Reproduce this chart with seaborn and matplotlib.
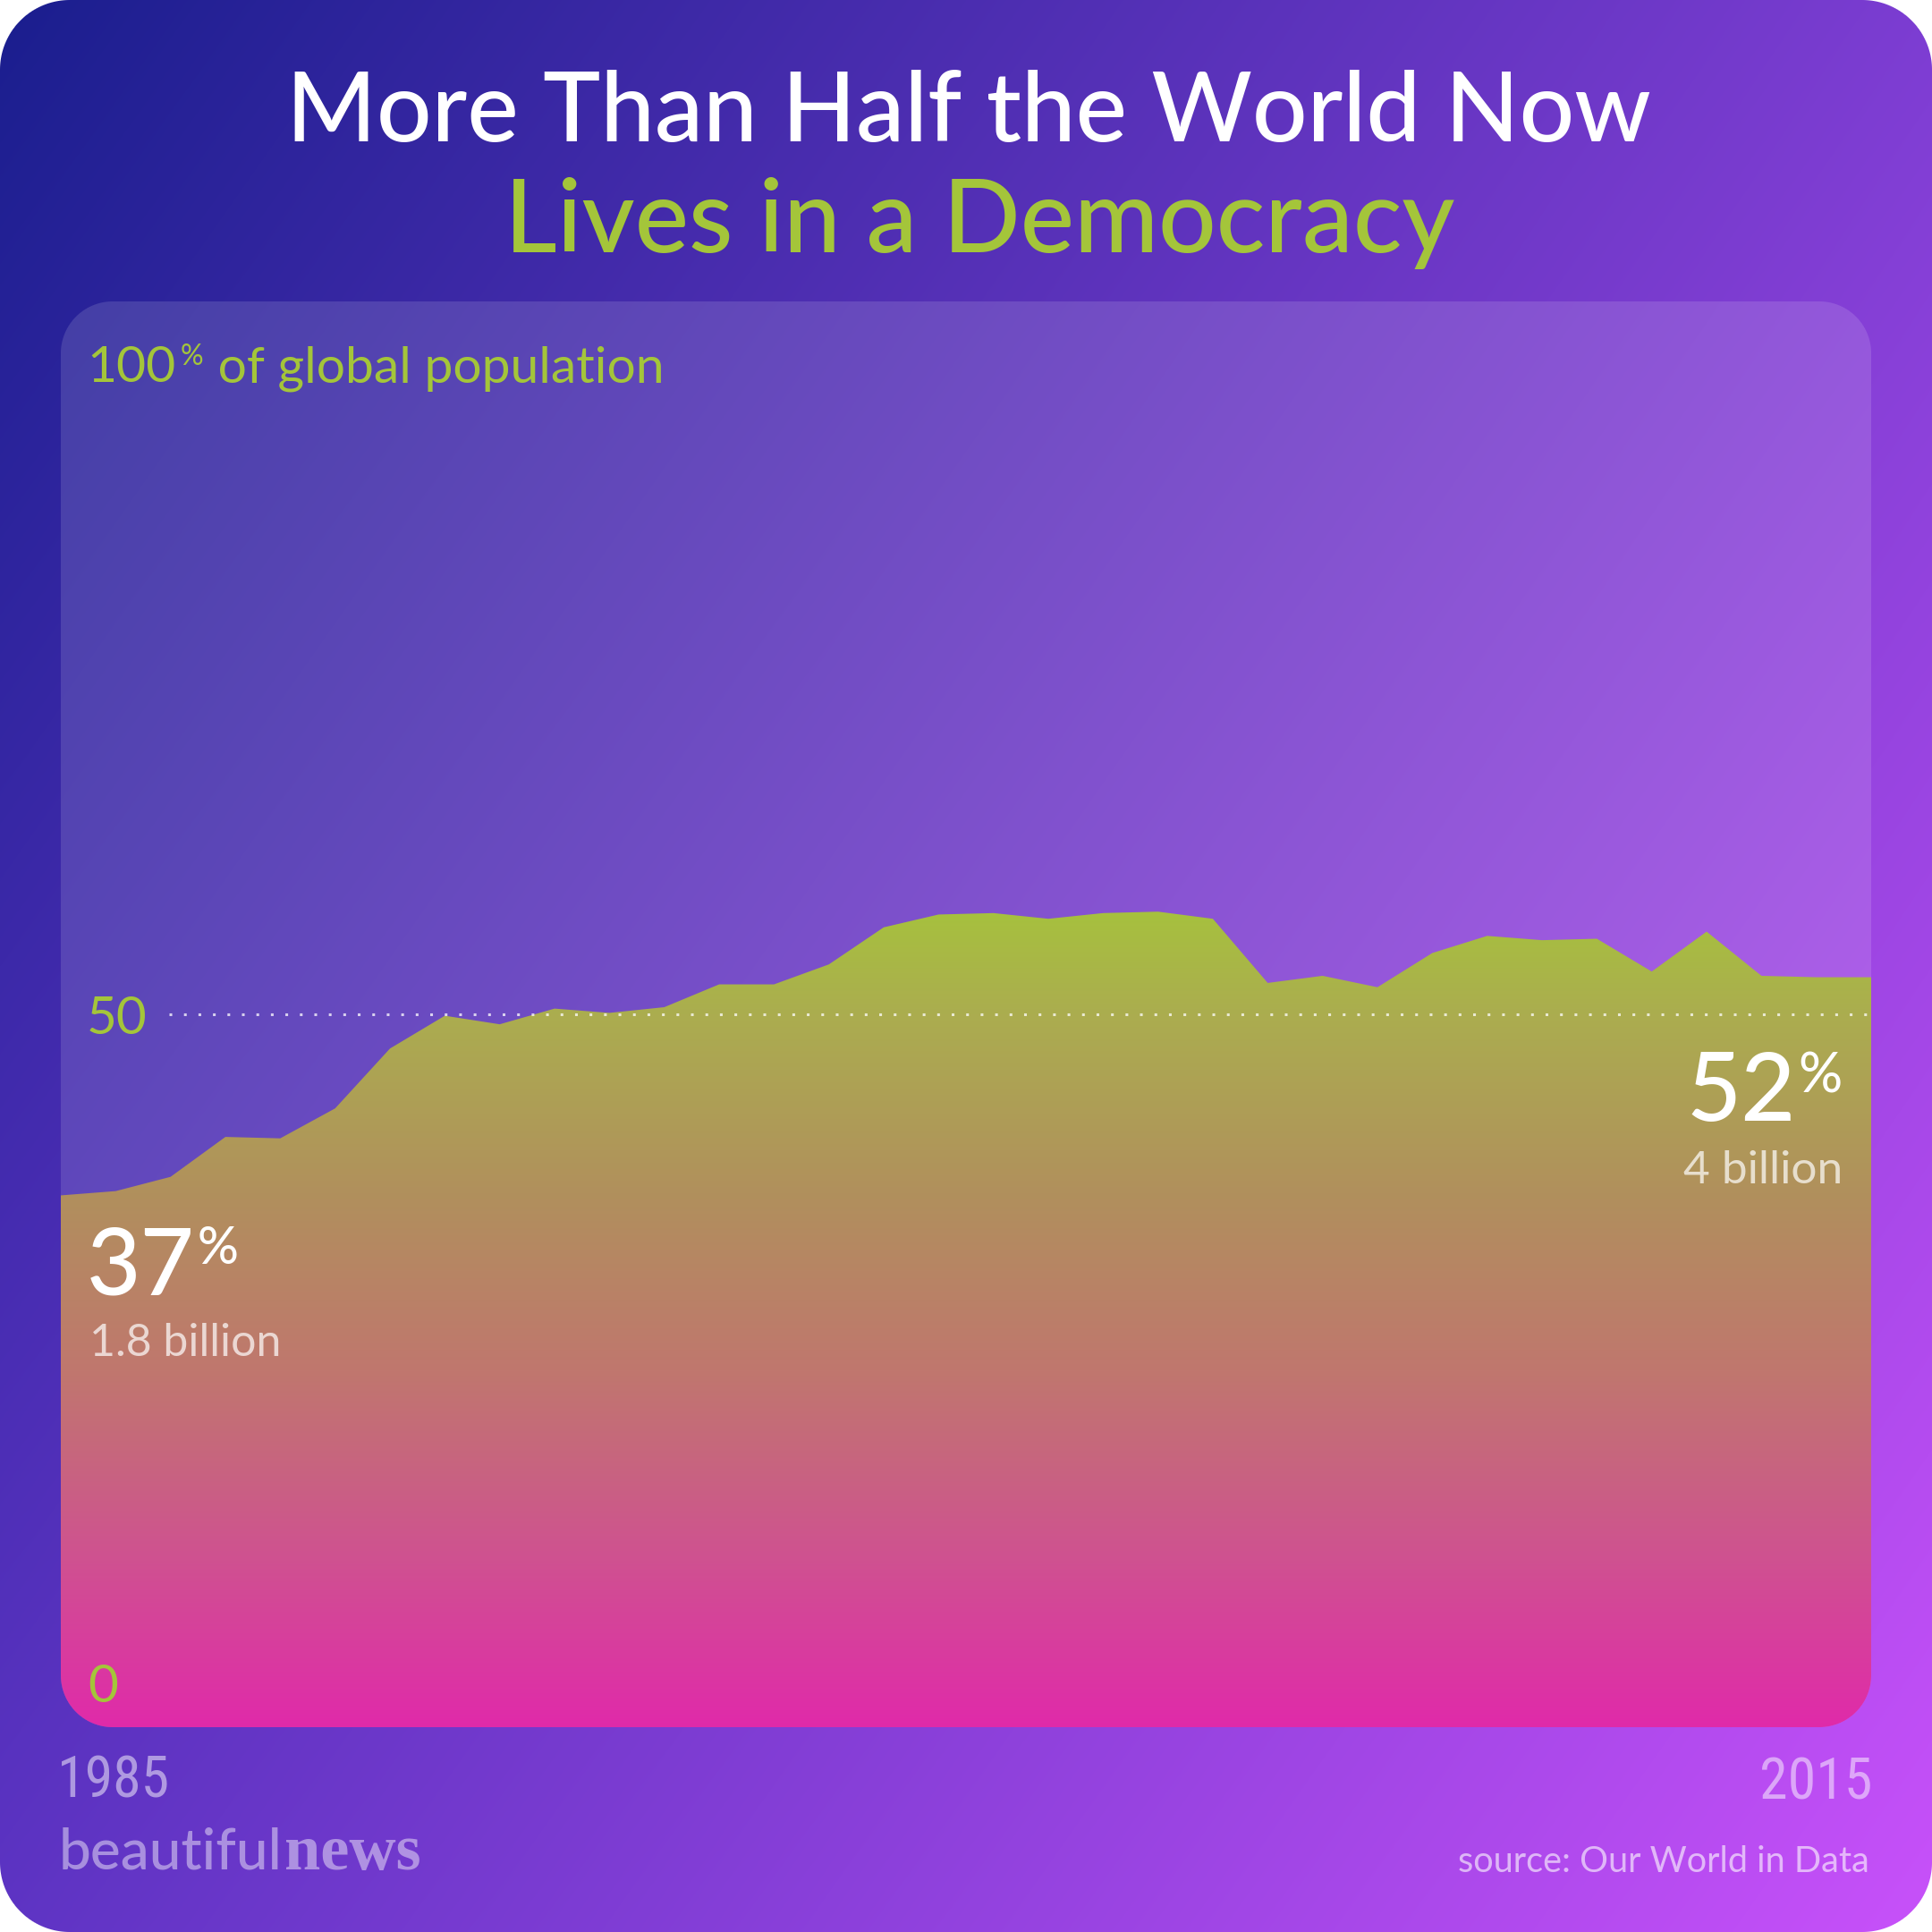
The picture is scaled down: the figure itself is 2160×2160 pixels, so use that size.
import numpy as np
import pandas as pd
import matplotlib
matplotlib.use("Agg")
import matplotlib.pyplot as plt
import seaborn as sns

# ---------------------------------------------------------
# Data: share of world population living in a democracy (%)
# ---------------------------------------------------------
point = list(range(34))
share = [37.3, 37.6, 38.6, 41.4, 41.3, 43.4, 47.6, 49.9, 49.3, 50.4,
         50.1, 50.5, 52.1, 52.1, 53.5, 56.1, 57.0, 57.1, 56.7, 57.1,
         57.2, 56.7, 52.2, 52.7, 51.9, 54.3, 55.5, 55.2, 55.3, 53.0,
         55.8, 52.7, 52.6, 52.6]
year_labels = ["1985", "2015"]
y_labels = ["0", "50", "100"]
start_label = ["37", "1.8 billion"]
end_label = ["52", "4 billion"]

df = pd.DataFrame({"point": point, "share": share})

# ---------------------------------------------------------
# Style
# ---------------------------------------------------------
sns.set_theme(style="white")
plt.rcParams["font.family"] = ["Lato", "DejaVu Sans"]

W = H = 2160
PX0, PX1, PY0, PY1 = 68, 2092, 337, 1931   # panel box in pixels
GREEN = "#a4c53a"
NARROW = ["Liberation Sans Narrow", "Roboto Condensed", "DejaVu Sans"]


def hex_rgb(h):
    h = h.lstrip("#")
    return np.array([int(h[i:i + 2], 16) for i in (0, 2, 4)], dtype=np.float32) / 255


def rounded_mask(h, w, r):
    yy, xx = np.mgrid[0:h, 0:w].astype(np.float32) + 0.5
    cx = np.clip(xx, r, w - r)
    cy = np.clip(yy, r, h - r)
    d = np.hypot(xx - cx, yy - cy)
    return np.clip(r - d + 0.5, 0, 1)


# background: diagonal gradient in a rounded square, lighter panel on top
tl, tr = hex_rgb("#1a1e8e"), hex_rgb("#7c3dd2")
bl, br = hex_rgb("#5e34c4"), hex_rgb("#c851fa")
v, u = np.mgrid[0:H, 0:W].astype(np.float32)
u = (u / W)[..., None]
v = (v / H)[..., None]
bg = (1 - u) * (1 - v) * tl + u * (1 - v) * tr + (1 - u) * v * bl + u * v * br
del u, v
panel = np.zeros((H, W, 1), dtype=np.float32)
panel[PY0:PY1, PX0:PX1, 0] = rounded_mask(PY1 - PY0, PX1 - PX0, 58)
bg = bg * (1 - 0.13 * panel) + 0.13 * panel
bg = np.concatenate([bg, rounded_mask(H, W, 78)[..., None]], axis=2)

fig = plt.figure(figsize=(10.8, 10.8), dpi=200, facecolor="white")

bax = fig.add_axes([0, 0, 1, 1], zorder=0)
bax.imshow(bg, extent=(0, W, H, 0), interpolation="nearest")
bax.set_xlim(0, W)
bax.set_ylim(H, 0)
bax.axis("off")

# ---------------------------------------------------------
# Area chart inside the panel
# ---------------------------------------------------------
ax = fig.add_axes([PX0 / W, (H - PY1) / H, (PX1 - PX0) / W, (PY1 - PY0) / H], zorder=1)
ax.patch.set_alpha(0)
sns.lineplot(data=df, x="point", y="share", ax=ax, linewidth=0)
ax.set_xlim(0, len(point) - 1)
ax.set_ylim(0, 100)
ax.axis("off")

# vertical gradient fill: magenta at 0 -> green at the top of the series
stops_v = [0, 12, 25, 37, 50, 58]
stops_c = [hex_rgb(c) for c in ["#e02aaa", "#cf5290", "#c0776e",
                                "#b18f5d", "#abad4f", "#a6c33c"]]
ph, pw = PY1 - PY0, PX1 - PX0
row_val = 100 * (1 - (np.arange(ph) + 0.5) / ph)
cols = np.stack([np.interp(row_val, stops_v, [c[k] for c in stops_c]) for k in range(3)], axis=1)
grad = np.empty((ph, pw, 4), dtype=np.float32)
grad[..., :3] = cols[:, None, :]
grad[..., 3] = rounded_mask(ph, pw, 58)
fill = ax.fill_between(df["point"], 0, df["share"], facecolor="none", edgecolor="none")
im = ax.imshow(grad, extent=(0, len(point) - 1, 0, 100), origin="upper",
               aspect="auto", interpolation="nearest", zorder=1)
im.set_clip_path(fill.get_paths()[0], transform=ax.transData)

ax.axhline(50, xmin=0.06, xmax=1, color="white", alpha=0.75, lw=1.1,
           linestyle=(0, (1, 4.3)), dash_capstyle="butt", zorder=3)

# ---------------------------------------------------------
# Text layer (pixel coordinates)
# ---------------------------------------------------------
tax = fig.add_axes([0, 0, 1, 1], zorder=3)
tax.set_xlim(0, W)
tax.set_ylim(H, 0)
tax.axis("off")
renderer = fig.canvas.get_renderer()


def put(x, y, s, size, color="white", weight="normal", ha="left", va="baseline", **kw):
    return tax.text(x, y, s, fontsize=size, color=color, fontweight=weight,
                    ha=ha, va=va, **kw)


def right_of(t, gap=0):
    return t.get_window_extent(renderer).x1 + gap


def left_of(t, gap=0):
    return t.get_window_extent(renderer).x0 - gap


put(1083, 158, "More Than Half the World Now", 39, weight="medium", ha="center")
put(1095, 282, "Lives in a Democracy", 41, color=GREEN, weight="medium", ha="center")

t = put(97, 427, y_labels[2], 20.5, color=GREEN)
t = put(right_of(t, 5), 408, "%", 11.5, color=GREEN)
put(right_of(t, 2), 427, " of global population", 20.5, color=GREEN)
put(97, 1134, y_labels[1], 21, color=GREEN, va="center_baseline")
put(98, 1903, y_labels[0], 21, color=GREEN)

t = put(97, 1448, start_label[0], 37.5, weight="medium")
put(right_of(t, 3), 1413, "%", 20.5, weight="medium")
put(100, 1516, start_label[1], 18, alpha=0.7)

t = put(2060, 1222, "%", 22, weight="medium", ha="right")
put(left_of(t, 3), 1253, end_label[0], 38, weight="medium", ha="right")
put(2060, 1323, end_label[1], 18.5, alpha=0.7, ha="right")

put(64, 2009, year_labels[0], 23, alpha=0.5, family=NARROW, fontstretch="condensed")
put(2093, 2011, year_labels[1], 23, alpha=0.5, ha="right", family=NARROW,
    fontstretch="condensed")

t = put(66, 2090, "beautiful", 23, weight="medium", alpha=0.45)
put(right_of(t, 2), 2090, "news", 26, weight="bold", alpha=0.45,
    family=["Liberation Serif", "DejaVu Serif"])
put(2090, 2093, "source: Our World in Data", 14.3, alpha=0.6, ha="right")

fig.savefig("out.png", dpi=200)
plt.close()
